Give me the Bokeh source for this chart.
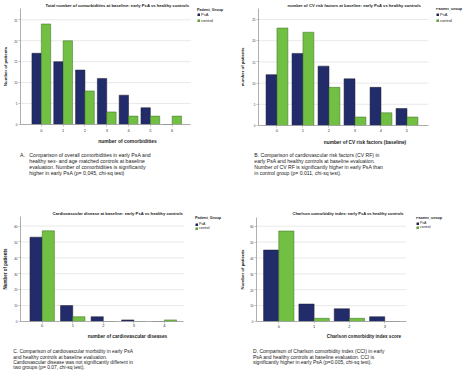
from bokeh.plotting import figure
from bokeh.models import Legend, LegendItem, ColumnDataSource, FixedTicker, Range1d, Div
from bokeh.layouts import column, row
from bokeh.transform import dodge
from bokeh.embed import file_html
from bokeh.resources import INLINE

# ---------------- data ----------------
group_names = ["PsA", "control"]
legend_title = "Patient_Group"

a_cats = [0, 1, 2, 3, 4, 5, 6]
a_psa = [17, 15, 13, 11, 7, 4, 0]
a_ctrl = [24, 20, 8, 3, 2, 2, 2]
a_yticks = [0, 5, 10, 15, 20, 25]
a_title = "Total number of comorbidities at baseline: early PsA vs healthy controls"
a_xlabel = "number of comorbidities"
a_ylabel = "Number of patients"
a_tag = "A."
a_caption = ["Comparison of overall comorbidities in early PsA and",
             "healthy sex- and age matched controls at baseline",
             "evaluation.  Number of comorbidities is significantly",
             "higher in early PsA (p= 0,045, chi-sq test)"]

b_cats = [0, 1, 2, 3, 4, 5]
b_psa = [12, 17, 14, 11, 9, 4]
b_ctrl = [23, 22, 9, 2, 3, 2]
b_yticks = [0, 5, 10, 15, 20, 25]
b_title = "number of CV risk factors at baseline: early PsA vs healthy controls"
b_xlabel = "number of CV risk factors (baseline)"
b_ylabel = "number of patients"
b_caption = ["B. Comparison of cardiovascular risk factors (CV RF) in",
             "early PsA and healthy controls at baseline evaluation.",
             "Number of CV RF is significantly higher in early PsA than",
             "in control  group (p= 0.011, chi-sq test)."]

c_cats = [0, 1, 2, 3, 4]
c_psa = [53, 10, 3, 1, 0]
c_ctrl = [57, 3, 0, 0, 1]
c_yticks = [0, 10, 20, 30, 40, 50, 60]
c_title = "Cardiovascular disease at baseline: early PsA vs healthy controls"
c_xlabel = "number of cardiovascular diseases"
c_ylabel = "Number of patients"
c_caption = ["C. Comparison of cardiovascular morbidity in early PsA",
             "and healthy controls at baseline evaluation.",
             "Cardiovascular disease was not significantly different in",
             "two groups (p= 0.07, chi-sq test)."]

d_cats = [0, 1, 2, 3]
d_psa = [45, 11, 8, 3]
d_ctrl = [57, 2, 2, 0]
d_yticks = [0, 10, 20, 30, 40, 50, 60]
d_title = "Charlson comorbidity index: early PsA vs healthy controls"
d_xlabel = "Charlson comorbidity index score"
d_ylabel = "Number of patients"
d_caption = ["D. Comparison of Charlson comorbidity index (CCI) in early",
             "PsA and healthy controls at baseline evaluation. CCI is",
             "significantly higher in early PsA (p=0.005, chi-sq test)."]

# ---------------- styling ----------------
NAVY = "#232c6b"
GREEN = "#72c043"
FONT = "Liberation Sans"
PW, PH = 237, 186
RB = 3          # right border of the (extended) frame


def make_panel(cats, psa, ctrl, yticks, title, xlabel, ylabel, cfg):
    x0, x1 = cfg["xr"]
    fw_real, fh = cfg["fw"], cfg["fh"]
    ppu = fw_real / (x1 - x0)
    fw_ext = PW - cfg["L"] - RB
    x_ext = x0 + fw_ext / ppu          # frame extended to hold the legend
    p = figure(width=PW, height=cfg["H"], output_backend="svg", toolbar_location=None,
               x_range=Range1d(x0, x_ext), y_range=Range1d(0, cfg["ytop"]),
               min_border_left=cfg["L"], min_border_right=RB,
               min_border_top=cfg["T"], min_border_bottom=cfg["H"] - cfg["T"] - fh)
    p.title.text = title
    p.title.text_font = FONT
    p.title.text_font_style = "bold"
    p.title.text_font_size = cfg["ts"]
    p.title.text_color = "#1a1a1a"
    p.title.align = "left"
    p.title.offset = cfg["tx"]
    p.title.standoff = cfg["tstd"]
    p.outline_line_color = None
    p.background_fill_color = "white"
    p.border_fill_color = "white"

    # horizontal grid lines limited to the chart area
    p.ygrid.visible = False
    p.xgrid.visible = False
    p.segment(x0=[x0] * len(yticks), x1=[x1] * len(yticks), y0=yticks, y1=yticks,
              line_color="#e0e0e0", line_width=0.7, level="underlay")

    src = ColumnDataSource(dict(x=cats, psa=psa, ctrl=ctrl))
    w = cfg["bw"]
    r1 = p.vbar(x=dodge("x", -w / 2), top="psa", width=w, source=src,
                fill_color=NAVY, line_color="#1a1a2a", line_width=0.5)
    r2 = p.vbar(x=dodge("x", w / 2), top="ctrl", width=w, source=src,
                fill_color=GREEN, line_color="#3d6b25", line_width=0.5)

    p.xaxis.ticker = FixedTicker(ticks=cats)
    p.yaxis.ticker = FixedTicker(ticks=yticks)
    p.xaxis.bounds = (x0, x1)
    for ax in (p.xaxis, p.yaxis):
        ax.axis_line_color = "#9a9a9a"
        ax.axis_line_width = 0.8
        ax.major_tick_line_color = "#9a9a9a"
        ax.major_tick_line_width = 0.6
        ax.major_tick_out = 2
        ax.major_tick_in = 0
        ax.minor_tick_line_color = None
        ax.major_label_text_color = "#333333"
        ax.major_label_text_font = FONT
        ax.axis_label_text_font = FONT
        ax.axis_label_text_font_style = "bold"
        ax.axis_label_text_color = "#222222"
    p.xaxis.major_label_text_font_size = "4px"
    p.xaxis.major_label_standoff = cfg["xts"]
    p.xaxis.axis_label = xlabel
    p.xaxis.axis_label_text_font_size = cfg["xls"]
    p.xaxis.axis_label_standoff = cfg["xlsd"]
    p.yaxis.major_label_text_font_size = "3px"
    p.yaxis.major_label_standoff = 1
    p.yaxis.axis_label = ylabel
    p.yaxis.axis_label_text_font_size = cfg["yls"]
    p.yaxis.axis_label_standoff = cfg["ylsd"]

    ih, sp, tsd, th = cfg["ih"], 0, cfg["tsd"], 4.4
    height = th + tsd + 2 * ih + sp
    leg = Legend(items=[LegendItem(label=group_names[0], renderers=[r1]),
                        LegendItem(label=group_names[1], renderers=[r2])],
                 title=legend_title, title_text_font=FONT, title_text_font_style="bold",
                 title_text_font_size="3.8px", title_text_color="#1a1a1a", title_standoff=tsd,
                 location=(fw_real + cfg["gx"], fh - cfg["ltop"] - height),
                 margin=0, padding=0, spacing=sp,
                 label_height=ih, glyph_height=3, glyph_width=3,
                 label_standoff=1, label_text_font=FONT, label_text_font_size=cfg["lfs"],
                 label_text_color="#222222", border_line_color=None, background_fill_alpha=0)
    p.add_layout(leg, "center")
    return p


def make_caption(lines, cfg, tag=None):
    style = ("font-family:'Liberation Sans',Arial,sans-serif;font-size:%s;line-height:%.2fpx;"
             "color:#222;white-space:nowrap;padding-top:%.1fpx;padding-left:%.1fpx;margin:0;"
             % (cfg["cfs"], cfg["clh"], cfg["cpt"], cfg["cpl"]))
    body = "<br>".join(lines)
    if tag:
        style += "text-indent:-%.1fpx;" % cfg["tagw"]
        body = ("<span style='display:inline-block;width:%.1fpx;text-indent:0'>%s</span>"
                % (cfg["tagw"], tag)) + body
    html = "<div style=\"%s\">%s</div>" % (style, body)
    return Div(text=html, width=PW, height=PH - cfg["H"], margin=0)


cfgA = dict(H=146, fw=172, fh=119, L=18, T=7, xr=(-0.955, 6.86), ytop=27.7, bw=0.43,
            tx=25, tstd=1, ts="4.2px", xls="5.0px", xts=2, xlsd=3, yls="4.3px", ylsd=3,
            ltop=2.3, ih=6, tsd=0, gx=5, lfs="4px",
            cfs="5.2px", clh=6.0, cpt=6.0, cpl=29.3, tagw=9.3)
cfgB = dict(H=147, fw=173, fh=121, L=17, T=7, xr=(-0.71, 5.82), ytop=27.6, bw=0.42,
            tx=29, tstd=1, ts="4.15px", xls="4.8px", xts=1, xlsd=5, yls="4.3px", ylsd=4,
            ltop=2.6, ih=6, tsd=0, gx=5, lfs="4px",
            cfs="5.1px", clh=6.0, cpt=5.0, cpl=17.3)
cfgC = dict(H=155, fw=165, fh=107, L=18, T=30, xr=(-0.71, 4.64), ytop=66, bw=0.40,
            tx=32, tstd=2, ts="4.2px", xls="4.75px", xts=0, xlsd=4, yls="4.5px", ylsd=3,
            ltop=1.6, ih=4, tsd=2, gx=10, lfs="3.5px",
            cfs="4.9px", clh=5.35, cpt=8.3, cpl=13.3)
cfgD = dict(H=155, fw=154, fh=106, L=13, T=31, xr=(-0.63, 3.61), ytop=65.5, bw=0.43,
            tx=36, tstd=3, ts="4.0px", xls="4.6px", xts=1, xlsd=3, yls="4.4px", ylsd=2,
            ltop=1.0, ih=4, tsd=1, gx=6, lfs="3.5px",
            cfs="5.0px", clh=5.5, cpt=8.25, cpl=16.0)

pA = make_panel(a_cats, a_psa, a_ctrl, a_yticks, a_title, a_xlabel, a_ylabel, cfgA)
pB = make_panel(b_cats, b_psa, b_ctrl, b_yticks, b_title, b_xlabel, b_ylabel, cfgB)
pC = make_panel(c_cats, c_psa, c_ctrl, c_yticks, c_title, c_xlabel, c_ylabel, cfgC)
pD = make_panel(d_cats, d_psa, d_ctrl, d_yticks, d_title, d_xlabel, d_ylabel, cfgD)

capA = make_caption(a_caption, cfgA, tag=a_tag)
capB = make_caption(b_caption, cfgB)
capC = make_caption(c_caption, cfgC)
capD = make_caption(d_caption, cfgD)

layout = column(row(column(pA, capA), column(pB, capB)),
                row(column(pC, capC), column(pD, capD)))
open("out.html", "w").write(file_html(layout, INLINE))
